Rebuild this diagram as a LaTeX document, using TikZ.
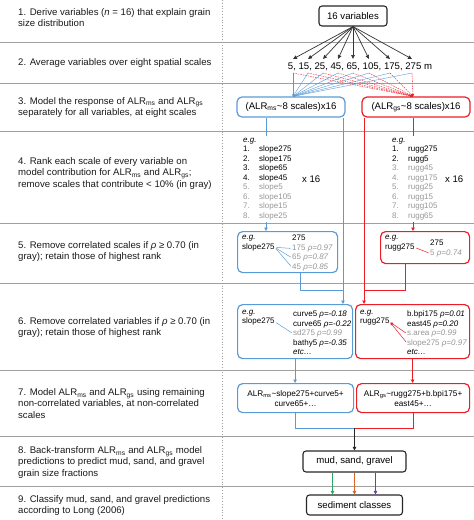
\documentclass[tikz,border=0pt]{standalone}
\usepackage{fontspec}
\setmainfont{Liberation Sans}
\usetikzlibrary{arrows.meta,calc}

\definecolor{msblue}{RGB}{91,155,213}
\definecolor{gsred}{RGB}{235,30,38}
\definecolor{rulegray}{RGB}{160,160,160}
\definecolor{dropgray}{RGB}{150,150,150}
\definecolor{mudgreen}{RGB}{40,170,100}
\definecolor{sandorange}{RGB}{220,100,30}
\definecolor{gravpurple}{RGB}{110,60,185}

\newcommand{\alrms}{ALR\textsubscript{ms}}
\newcommand{\alrgs}{ALR\textsubscript{gs}}

\tikzset{
  steptext/.style={anchor=west, inner sep=0pt, align=left, text=black!90, font=\fontsize{9.6}{11.3}\selectfont},
  seprule/.style={rulegray, line width=0.8pt},
  blackbox/.style={draw=black!85, line width=1.1pt, rounded corners=3pt, inner sep=0pt, font=\fontsize{9.6}{11}\selectfont},
  msbox/.style={draw=msblue, line width=1.2pt, rounded corners=5pt, inner sep=0pt},
  gsbox/.style={draw=gsred, line width=1.2pt, rounded corners=5pt, inner sep=0pt},
  itemtext/.style={anchor=base west, yshift=-2.9pt, inner sep=0pt, font=\fontsize{8}{9}\selectfont},
  egtext/.style={itemtext, font=\fontsize{8}{9}\selectfont\itshape},
  bigitem/.style={itemtext, yshift=-0.5pt, font=\fontsize{9.6}{11}\selectfont},
  msline/.style={msblue, line width=1pt},
  gsline/.style={gsred, line width=1pt},
  arrowtip/.style={-{Triangle[length=3.5pt,width=3.5pt]}},
}

\begin{document}
\begin{tikzpicture}[x=1pt, y=-1pt]
\useasboundingbox (0,0) rectangle (474,520);

\foreach \y in {42,83,131,223,283,370,436,486}
  \draw[seprule] (0,\y) -- (474,\y);
\draw[rulegray, dotted, line width=0.8pt] (222,0) -- (222,520);

% steps
\node[steptext] (t1) at (18,17.5) {1. Derive variables (\textit{n} = 16) that explain grain\\size distribution};
\node[steptext] (t2) at (18,63) {2. Average variables over eight spatial scales};
\node[steptext] (t3) at (18,107.5) {3. Model the response of \alrms{} and \alrgs\\separately for all variables, at eight scales};
\node[steptext] (t4) at (18,173.5) {4. Rank each scale of every variable on\\model contribution for \alrms{} and \alrgs;\\remove scales that contribute < 10\% (in gray)};
\node[steptext] (t5) at (18,251.5) {5. Remove correlated scales if \textit{ρ} ≥ 0.70 (in\\gray); retain those of highest rank};
\node[steptext] (t6) at (18,327.5) {6. Remove correlated variables if \textit{ρ} ≥ 0.70 (in\\gray); retain those of highest rank};
\node[steptext] (t7) at (18,403.5) {7. Model \alrms{} and \alrgs{} using remaining\\non-correlated variables, at non-correlated\\scales};
\node[steptext] (t8) at (18,462.5) {8. Back-transform \alrms{} and \alrgs{} model\\predictions to predict mud, sand, and gravel\\grain size fractions};
\node[steptext] (t9) at (18,505.5) {9. Classify mud, sand, and gravel predictions\\according to Long (2006)};

% variables and scales
\node[blackbox, minimum width=68, minimum height=20] (vars) at (353,16) {16 variables};
\node[inner sep=0pt, font=\fontsize{9.6}{11}\selectfont] (scales) at (360,67) {5, 15, 25, 45, 65, 105, 175, 275 m};

\node[msbox, minimum width=108, minimum height=20, font=\fontsize{9.6}{11}\selectfont] (msmod) at (291,107) {(\alrms\textasciitilde8 scales)x16};
\node[gsbox, minimum width=108, minimum height=20, font=\fontsize{9.6}{11}\selectfont] (gsmod) at (416,107) {(\alrgs\textasciitilde8 scales)x16};

\foreach \x [count=\i] in {293,308,323,338,353,369,390,412} {
  \coordinate (top\i) at (\x,59);
  \coordinate (bot\i) at (\x,73);
  \draw[black!80, line width=0.7pt, -{Triangle[length=4pt,width=3.6pt]}] (vars.south) -- (top\i);
  \draw[msblue, line width=0.4pt, -{Triangle[length=2pt,width=2pt]}] (bot\i) -- ($(msmod.north)+(2,0)$);
  \draw[gsred, line width=0.4pt, dash pattern=on 1.5pt off 1pt, -{Triangle[length=2.5pt,width=2.5pt]}] (bot\i) -- ($(gsmod.north)+(-3,0)$);
}

% ranked scales
\coordinate (msx) at (266,0);
\coordinate (gsx) at (413,0);
\node[egtext] (mseg) at (243,140) {e.g.};
\node[egtext] (gseg) at (392,140) {e.g.};
\foreach \v/\c [count=\i] in {275/black,175/black,65/black,45/black,5/dropgray,105/dropgray,15/dropgray,25/dropgray} {
  \node[itemtext, text=\c] (msn\i) at (243,{149+9.5*(\i-1)}) {\i.};
  \node[itemtext, text=\c] (msr\i) at (259,{149+9.5*(\i-1)}) {slope\v};
}
\foreach \v/\c [count=\i] in {275/black,5/black,45/dropgray,175/dropgray,25/dropgray,15/dropgray,105/dropgray,65/dropgray} {
  \node[itemtext, text=\c] (gsn\i) at (392,{149+9.5*(\i-1)}) {\i.};
  \node[itemtext, text=\c] (gsr\i) at (408,{149+9.5*(\i-1)}) {rugg\v};
}
\node[bigitem] (msx16) at (302,179) {x 16};
\node[bigitem] (gsx16) at (445,179) {x 16};
\draw[msline] (msmod.south -| msx) -- ($(mseg.north -| msx)+(0,-2)$);
\draw[gsline] (gsmod.south -| gsx) -- ($(gseg.north -| gsx)+(0,-2)$);

% correlated scales
\node[msbox, minimum width=100, minimum height=41, anchor=north west] (msscale) at (237,231) {};
\node[gsbox, minimum width=89, minimum height=32, anchor=north west] (gsscale) at (380,231) {};
\draw[msline, arrowtip] ($(msr8.south -| msx)+(0,2)$) -- (msscale.north -| msx);
\draw[gsline, arrowtip] ($(gsr8.south -| gsx)+(0,2)$) -- (gsscale.north -| gsx);

\node[egtext] (msse) at (242,237) {e.g.};
\node[itemtext] (mssv) at (242,246.5) {slope275};
\node[itemtext] (ms275) at (292,238) {275};
\foreach \s/\r/\y [count=\i] in {175/0.97/247.5,65/0.87/257,45/0.85/266.5} {
  \node[itemtext, text=dropgray] (mso\i) at (292,\y) {\s\ \textit{ρ=\r}};
  \draw[msblue, line width=0.5pt, shorten <=1.5pt, shorten >=1.5pt] (mssv.east) -- (mso\i.west);
}
\node[egtext] (gsse) at (385,237) {e.g.};
\node[itemtext] (gssv) at (385,246.5) {rugg275};
\node[itemtext] (gs275) at (430,242.5) {275};
\node[itemtext, text=dropgray] (gso1) at (430,252.5) {5 \textit{ρ=0.74}};
\draw[gsred, line width=0.5pt, shorten <=1.5pt, shorten >=1.5pt] (gssv.east) -- (gso1.west);

% correlated variables
\node[msbox, minimum width=115, minimum height=54, anchor=north west] (msvar) at (237,304) {};
\node[gsbox, minimum width=114, minimum height=54, anchor=north west] (gsvar) at (355,304) {};
\coordinate (mstrunk) at (343,0);
\coordinate (gstrunk) at (364,0);
\coordinate (msjoin) at (300,290);
\coordinate (gsjoin) at (405,290);
\draw[msline, arrowtip] (msmod.south -| mstrunk) -- (msvar.north -| mstrunk);
\draw[gsline, arrowtip] (gsmod.south -| gstrunk) -- (gsvar.north -| gstrunk);
\draw[msline] (msscale.south -| msjoin) -- (msjoin) -- (msjoin -| mstrunk);
\draw[gsline] (gsscale.south -| gsjoin) -- (gsjoin) -- (gsjoin -| gstrunk);

\node[egtext] (msve) at (242,312) {e.g.};
\node[itemtext] (msvv) at (242,321) {slope275};
\foreach \t/\c [count=\i] in {curve5 \textit{ρ=-0.18}/black,curve65 \textit{ρ=-0.22}/black,sd275 \textit{ρ=0.99}/dropgray,bathy5 \textit{ρ=-0.35}/black,\textit{etc…}/black}
  \node[itemtext, text=\c] (msw\i) at (293,{314+9.4*(\i-1)}) {\t};
\draw[msblue, line width=0.5pt, shorten <=1.5pt, shorten >=1.5pt] (msvv.east) -- (msw3.west);

\node[egtext] (gsve) at (360,312) {e.g.};
\node[itemtext] (gsvv) at (360,321) {rugg275};
\foreach \t/\c [count=\i] in {b.bpi175 \textit{ρ=0.01}/black,east45 \textit{ρ=0.20}/black,s.area \textit{ρ=0.99}/dropgray,slope275 \textit{ρ=0.97}/dropgray,\textit{etc…}/black}
  \node[itemtext, text=\c] (gsw\i) at (407,{314+9.4*(\i-1)}) {\t};
\foreach \i in {3,4}
  \draw[gsred, line width=0.5pt, shorten <=1pt, shorten >=1.5pt, {Triangle[length=2.5pt,width=2.5pt]}-] (gsvv.east) -- (gsw\i.west);

% final models
\node[msbox, minimum width=116, minimum height=29, anchor=north west, align=center, font=\fontsize{8.2}{10}\selectfont] (msfin) at (237,383) {\alrms\textasciitilde slope275+curve5+\\curve65+…};
\node[gsbox, minimum width=113, minimum height=29, anchor=north west, align=center, font=\fontsize{8.2}{10}\selectfont] (gsfin) at (356,383) {\alrgs\textasciitilde rugg275+b.bpi175+\\east45+…};
\draw[msline, arrowtip] (msvar.south) -- (msvar.south |- msfin.north);
\draw[gsline, arrowtip] (gsvar.south) -- (gsvar.south |- gsfin.north);

% fractions and classes
\node[blackbox, minimum width=103, minimum height=21] (mud) at (354.5,461.5) {mud, sand, gravel};
\node[blackbox, minimum width=96, minimum height=20] (sed) at (354.5,505) {sediment classes};
\coordinate (merge) at (354.5,428);
\draw[msline] (msfin.south) |- (merge);
\draw[gsline] (gsfin.south) |- (merge);
\draw[black!85, line width=1.1pt, arrowtip] (merge) -- (mud.north);
\foreach \dx/\c in {-22/mudgreen,0/sandorange,21/gravpurple}
  \draw[\c, line width=1.1pt, arrowtip] ($(mud.south)+(\dx,0)$) -- ($(sed.north)+(\dx,0)$);
\end{tikzpicture}
\end{document}
